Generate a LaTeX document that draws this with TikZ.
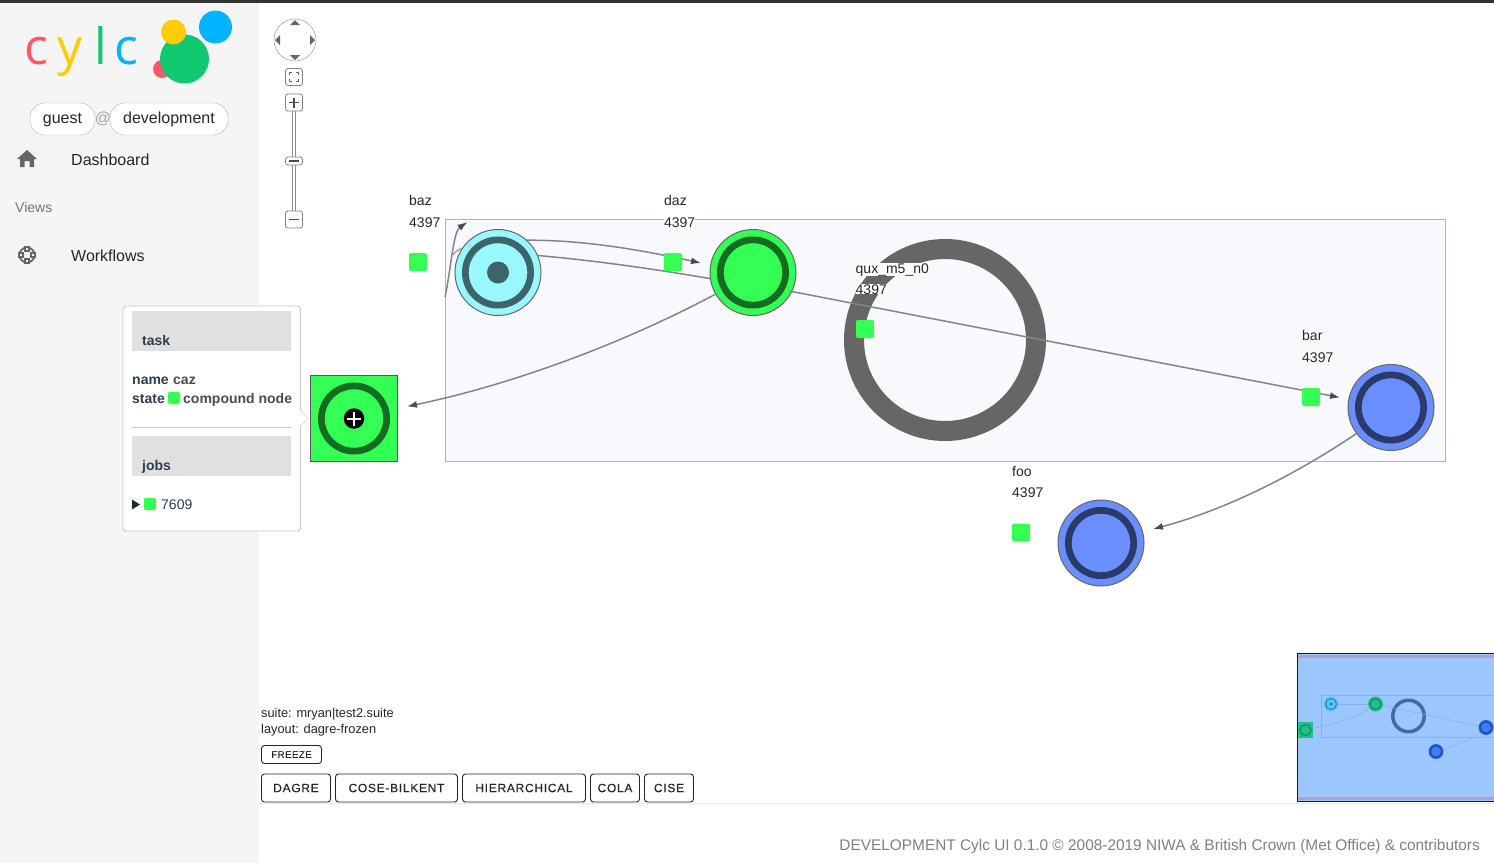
\documentclass[tikz,border=0pt]{standalone}
\usepackage{fontspec}
\usepackage{tikz}
\usetikzlibrary{arrows.meta}
\setmainfont{Liberation Sans}
\newfontfamily\logofont{Open Sans}
\newfontfamily\btnfont[LetterSpace=6, FakeBold=.25]{Liberation Sans}
\definecolor{side}{HTML}{F5F5F5}
\definecolor{logored}{HTML}{FF5966}
\definecolor{logoyel}{HTML}{FFCC00}
\definecolor{logogrn}{HTML}{0FC86F}
\definecolor{logoblu}{HTML}{00B3FD}
\definecolor{done}{HTML}{33FF55}
\definecolor{doneD}{HTML}{146B22}
\definecolor{runB}{HTML}{6B8EFF}
\definecolor{runD}{HTML}{2A3A6B}
\definecolor{subm}{HTML}{99F8FF}
\definecolor{submD}{HTML}{3D6469}
\definecolor{boxbg}{HTML}{F8F9FD}
\definecolor{minibg}{HTML}{9CC6FF}
\definecolor{minibar}{HTML}{A8A4CC}
\definecolor{miniln}{HTML}{88B0E8}
\definecolor{miniG}{HTML}{1FC185}
\definecolor{miniGd}{HTML}{1A7C72}
\definecolor{miniB}{HTML}{3F7FF5}
\definecolor{miniBd}{HTML}{1F4FB0}
\definecolor{miniC}{HTML}{5CC4FA}
\definecolor{miniCd}{HTML}{2A80B0}
\definecolor{miniQ}{HTML}{3F6C9F}
\definecolor{ink}{HTML}{2C3E50}
\tikzstyle{txt}=[inner sep = 0, anchor = base west, font = \fontsize{14}{16}\selectfont, text = black!85]
\tikzstyle{navtxt}=[txt, font = \fontsize{16}{18}\selectfont]
\tikzstyle{small}=[txt, font = \fontsize{12.8}{14}\selectfont]
\tikzstyle{tip}=[txt, font = \bfseries\fontsize{14}{16}\selectfont, text = ink]
\tikzstyle{logo}=[anchor = base west, inner sep = 0, font = \logofont\fontsize{50}{50}\selectfont]
\tikzstyle{pill}=[draw = black!30, fill = white, rounded corners = 15pt, inner sep = 0, minimum height = 32pt, text height = 12pt, text depth = 3pt, font = \fontsize{16}{18}\selectfont, text = black!85]
\tikzstyle{btn}=[draw = black!85, line width = .9pt, rounded corners = 3pt, inner sep = 0, minimum height = 28pt, font = \btnfont\fontsize{12}{14}\selectfont, text = black!85]
\tikzstyle{ctl}=[draw = black!50, line width = .8pt, fill = white, rounded corners = 2.5pt, inner sep = 0, minimum size = 17pt]
\tikzstyle{job}=[circle, draw = black!60, line width = 1pt, inner sep = 0, minimum size = 86pt]
\tikzstyle{ring}=[circle, draw, line width = 6.7pt, inner sep = 0, minimum size = 65.3pt]
\tikzstyle{state}=[fill = done, rounded corners = 2pt, inner sep = 0, minimum size = 18pt]
\tikzstyle{edge}=[draw = black!48, line width = 1.5pt]
\tikzstyle{head}=[-{Latex[length = 10pt, width = 7pt, black!70]}]
\tikzstyle{mini}=[circle, draw, line width = 1pt, inner sep = 0, minimum size = 11pt]
\tikzstyle{halo}=[circle, inner sep = 0, minimum size = 15pt]
\tikzstyle{miniedge}=[draw = miniln, line width = .6pt]
\begin{document}
\begin{tikzpicture}[x = 1pt, y = -1pt]
\useasboundingbox (0, 0) rectangle (1494, 863);
\fill [white] (0, 0) rectangle (1494, 863);
\fill [side] (0, 0) rectangle (259, 863);
\fill [black!80] (0, 0) rectangle (1494, 2.5);
\draw [black!8] (259, 803) to (1494, 803);
%%%%%%%%%%%%%%%%%%%%%%%
% logo
\node (logoc) at (24, 64) [logo, text = logored] {c};
\node (logoy) at (57, 64) [logo, text = logoyel] {y};
\node (logol) at (94, 64) [logo, text = logogrn] {l};
\node (logoc2) at (114, 64) [logo, text = logoblu] {c};
\fill [logored] (162, 69) circle (9);
\fill [logogrn] (184.5, 59) circle (24.5);
\fill [logoyel] (173.5, 32) circle (12.5);
\fill [logoblu] (215.5, 27) circle (16.5);
%%%%%%%%%%%%%%%%%%%%%%%
% side menu
\node (guest) at (62.5, 119) [pill, minimum width = 65pt] {guest};
\node (at) at (103, 119) [text = black!35, inner sep = 0, font = \fontsize{16}{18}\selectfont] {@};
\node (devel) at (169, 119) [pill, minimum width = 118pt] {development};
\node (dash) at (71, 165) [navtxt] {Dashboard};
\node (views) at (15, 212) [txt, text = black!55] {Views};
\node (flows) at (71, 261) [navtxt] {Workflows};
\fill [black!60] (27, 150) -- (37, 159) -- (34, 159) -- (34, 167) -- (29.5, 167) -- (29.5, 161) -- (24.5, 161) -- (24.5, 167) -- (20, 167) -- (20, 159) -- (17, 159) -- cycle;
\draw [black!60, line width = 1.8pt] (27, 255) circle (7.5);
\draw [black!60, fill = side, line width = 1.6pt] (25, 247) rectangle (29, 251);
\draw [black!60, fill = side, line width = 1.6pt] (25, 259) rectangle (29, 263);
\draw [black!60, fill = side, line width = 1.6pt] (19, 253) rectangle (23, 257);
\draw [black!60, fill = side, line width = 1.6pt] (31, 253) rectangle (35, 257);
%%%%%%%%%%%%%%%%%%%%%%%
% pan and zoom
\node (pan) at (295, 40) [circle, draw = black!45, fill = white, inner sep = 0, minimum size = 42pt] {};
\fill [black!60] (295, 20) -- (300, 25) -- (290, 25) -- cycle;
\fill [black!60] (295, 60) -- (300, 55) -- (290, 55) -- cycle;
\fill [black!60] (275, 40) -- (280, 35) -- (280, 45) -- cycle;
\fill [black!60] (315, 40) -- (310, 35) -- (310, 45) -- cycle;
\draw [black!45, double = white, line width = .8pt, double distance = 2.4pt] (294, 110) to (294, 211);
\node (fit) at (294, 77) [ctl] {};
\node (plus) at (294, 102.5) [ctl] {};
\node (mid) at (294, 161) [ctl, minimum height = 8pt] {};
\node (minus) at (294, 219.5) [ctl] {};
\draw [black!60, line width = 1.5pt] (289.5, 75) -- (289.5, 72.5) -- (292, 72.5);
\draw [black!60, line width = 1.5pt] (296, 72.5) -- (298.5, 72.5) -- (298.5, 75);
\draw [black!60, line width = 1.5pt] (289.5, 79) -- (289.5, 81.5) -- (292, 81.5);
\draw [black!60, line width = 1.5pt] (296, 81.5) -- (298.5, 81.5) -- (298.5, 79);
\draw [black!70, line width = 1.8pt] (289, 102.5) -- (299, 102.5);
\draw [black!70, line width = 1.8pt] (294, 97.5) -- (294, 107.5);
\draw [black!70, line width = 1.8pt] (289, 161) -- (299, 161);
\draw [black!70, line width = 1.8pt] (289, 219.5) -- (299, 219.5);
%%%%%%%%%%%%%%%%%%%%%%%
% family box and graph
\draw [black!30, line width = .8pt, fill = boxbg] (445, 219.5) rectangle (1445, 461);
\node (qux) at (945, 340) [circle, draw = black!60, line width = 20pt, inner sep = 0, minimum size = 182pt] {};
\node (baz) at (498, 272.5) [job, fill = subm] {};
\node (bazring) at (498, 272.5) [ring, draw = submD] {};
\node (bazdot) at (498, 272.5) [circle, fill = submD, inner sep = 0, minimum size = 22pt] {};
\node (daz) at (753, 272.5) [job, fill = done] {};
\node (dazring) at (753, 272.5) [ring, draw = doneD] {};
\node (bar) at (1391, 407.5) [job, fill = runB] {};
\node (barring) at (1391, 407.5) [ring, draw = runD] {};
\node (foo) at (1101, 543) [job, fill = runB] {};
\node (fooring) at (1101, 543) [ring, draw = runD] {};
\node (caz) at (354, 418.5) [draw = black!65, fill = done, line width = 1pt, inner sep = 0, minimum size = 86.5pt] {};
\node (cazring) at (354, 418.5) [ring, draw = doneD] {};
\node (cazdot) at (354, 418.5) [circle, fill = black, inner sep = 0, minimum size = 20.5pt] {};
\draw [white, line width = 2pt] (347, 418.5) -- (361, 418.5);
\draw [white, line width = 2pt] (354, 411.5) -- (354, 425.5);
%
\coordinate (loopa) at (445, 297);
\coordinate (loopb) at (467.5, 222);
\coordinate (loopc) at (453, 255);
\coordinate (dazin) at (701, 263);
\coordinate (barin) at (1340, 397.5);
\coordinate (cazin) at (407, 406.5);
\coordinate (fooin) at (1153, 529);
\draw [edge, head] (loopa) .. controls (451, 270) and (453, 232) .. (loopb);
\draw [edge, black!35] (loopc) .. controls (455, 251) and (459, 250) .. (baz.146);
\draw [edge, head] (baz.48) .. controls (590, 240) and (650, 252) .. (dazin);
\draw [edge] (baz.23) .. controls (600, 261) and (660, 270) .. (daz.188);
\draw [edge, head] (daz.-26) to (barin);
\draw [edge, head] (daz.210) .. controls (620, 345) and (510, 385) .. (cazin);
\draw [edge, head] (bar.217) .. controls (1295, 475) and (1225, 510) .. (fooin);
%%%%%%%%%%%%%%%%%%%%%%%
% labels
\node (bazn) at (409, 205) [txt] {baz};
\node (bazi) at (409, 227) [txt] {4397};
\node (bazs) at (418, 262) [state] {};
\node (dazn) at (664, 205) [txt] {daz};
\node (dazi) at (664, 227) [txt, fill = white, outer sep = 0] {4397};
\node (dazs) at (673, 262) [state] {};
\node (quxn) at (855.5, 273) [txt, fill = white] {qux\_m5\_n0};
\node (quxi) at (855.5, 294) [txt, fill = white] {4397};
\node (quxs) at (865, 329) [state] {};
\node (barn) at (1302, 340) [txt, fill = white] {bar};
\node (bari) at (1302, 362) [txt, fill = white] {4397};
\node (bars) at (1311, 397) [state] {};
\node (foon) at (1012, 476) [txt] {foo};
\node (fooi) at (1012, 497) [txt] {4397};
\node (foos) at (1021, 532.5) [state] {};
%%%%%%%%%%%%%%%%%%%%%%%
% popup
\draw [black!22, line width = .9pt, fill = white, rounded corners = 3pt] (123, 306) rectangle (300.5, 531);
\draw [black!22, fill = white] (300.5, 410) -- (308, 418) -- (300.5, 426);
\fill [white] (299.5, 411) rectangle (300.9, 425);
\node (taskh) at (132, 311) [anchor = north west, fill = black!12, inner sep = 0, minimum width = 159pt, minimum height = 40pt] {};
\node (jobsh) at (132, 436) [anchor = north west, fill = black!12, inner sep = 0, minimum width = 159pt, minimum height = 40pt] {};
\node (task) at (142, 345) [tip] {task};
\node (name) at (132, 384) [tip] {name};
\node (caza) at (173, 384) [tip, text = black!70] {caz};
\node (stt) at (132, 403) [tip] {state};
\node (stts) at (174, 398) [state, minimum size = 12pt] {};
\node (sttv) at (183, 403) [tip, text = black!70] {compound node};
\draw [black!22] (132, 427.5) to (291, 427.5);
\node (jobs) at (142, 470) [tip] {jobs};
\fill [ink!70!black] (132, 499.5) -- (140, 504.5) -- (132, 509.5) -- cycle;
\node (jobst) at (150, 504) [state, minimum size = 12pt] {};
\node (jobi) at (161, 509) [txt, text = ink] {7609};
%%%%%%%%%%%%%%%%%%%%%%%
% status and buttons
\node (suite) at (261, 717) [small] {suite: mryan|test2.suite};
\node (layout) at (261, 733) [small] {layout: dagre-frozen};
\node (freeze) at (291.5, 754.5) [btn, minimum width = 60pt, minimum height = 18pt, font = \btnfont\fontsize{9.5}{12}\selectfont] {FREEZE};
\node (dagre) at (296, 788) [btn, minimum width = 69pt] {DAGRE};
\node (cose) at (396.5, 788) [btn, minimum width = 122pt] {COSE-BILKENT};
\node (hier) at (524, 788) [btn, minimum width = 123pt] {HIERARCHICAL};
\node (cola) at (615, 788) [btn, minimum width = 49pt] {COLA};
\node (cise) at (669, 788) [btn, minimum width = 49pt] {CISE};
\node (foot) at (1480, 850) [txt, anchor = base east, text = black!50, font = \fontsize{15.4}{18}\selectfont] {DEVELOPMENT Cylc UI 0.1.0 \textcopyright{} 2008-2019 NIWA \& British Crown (Met Office) \& contributors};
%%%%%%%%%%%%%%%%%%%%%%%
% navigator
\draw [black!90, fill = minibg, line width = 1pt] (1297.5, 653) rectangle (1500, 801);
\fill [minibar] (1298, 655) rectangle (1494, 657.5);
\fill [minibar] (1298, 797) rectangle (1494, 799.5);
\draw [miniln] (1321.5, 695) rectangle (1500, 737.5);
\node (mqux) at (1408.5, 716) [circle, draw = miniQ, line width = 3.5pt, inner sep = 0, minimum size = 31.5pt] {};
\node (mcaz) at (1305.5, 730) [fill = miniG, inner sep = 0, minimum size = 15.5pt] {};
\node (mbazh) at (1331, 704) [halo, fill = miniC] {};
\node (mbaz) at (1331, 704) [mini, fill = miniC, draw = miniCd] {};
\node (mbazd) at (1331, 704) [circle, fill = miniCd, inner sep = 0, minimum size = 3.5pt] {};
\node (mdazh) at (1375.5, 704) [halo, fill = miniG] {};
\node (mdaz) at (1375.5, 704) [mini, fill = miniG, draw = miniGd] {};
\node (mbarh) at (1486, 727.5) [halo, fill = miniBd!70!miniB] {};
\node (mbar) at (1486, 727.5) [mini, fill = miniB, draw = miniBd] {};
\node (mfooh) at (1436, 751.5) [halo, fill = miniBd!70!miniB] {};
\node (mfoo) at (1436, 751.5) [mini, fill = miniB, draw = miniBd] {};
\node (mcazr) at (1305.5, 730) [mini, fill = miniG, draw = miniGd] {};
\draw [miniedge] (mbazh) to (mdazh);
\draw [miniedge] (mdazh) .. controls (1355, 718) and (1335, 724) .. (mcaz);
\draw [miniedge] (mdazh) to (mbarh);
\draw [miniedge] (mbarh) .. controls (1470, 740) and (1455, 746) .. (mfooh);
\end{tikzpicture}
\end{document}
